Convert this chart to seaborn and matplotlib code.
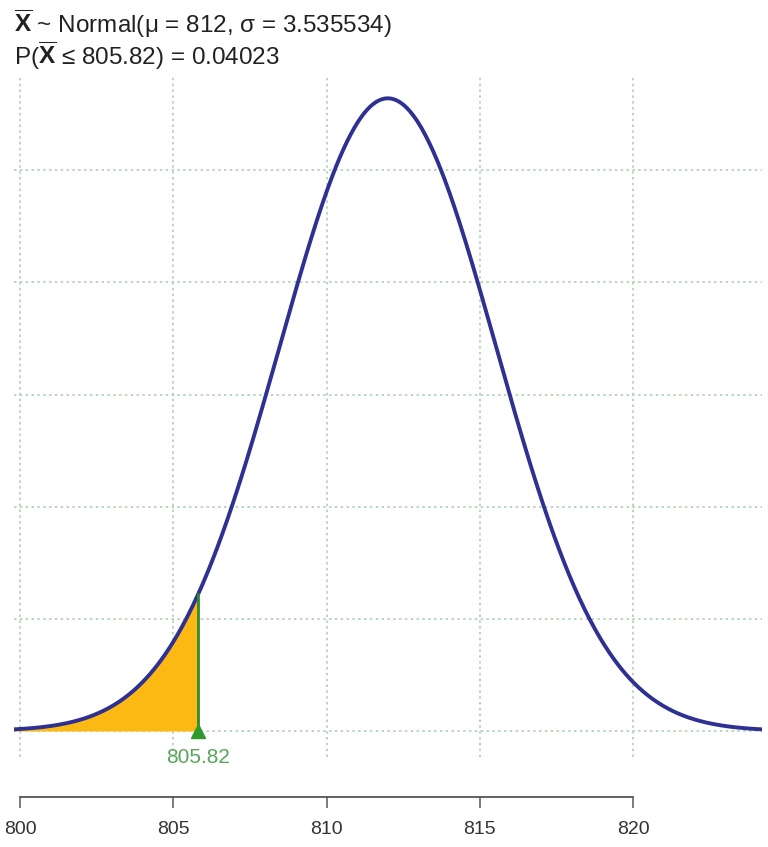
import numpy as np
import pandas as pd
import matplotlib
matplotlib.use("Agg")
import matplotlib.pyplot as plt
import seaborn as sns

# Distribution shown in the chart
mu = 812
sigma = 3.535534
x_cut = 805.82
p_cut = 0.04023
x_range = [799.8, 824.2]
x_ticks = [800, 805, 810, 815, 820]
y_grid = [0.0, 0.02, 0.04, 0.06, 0.08, 0.10]

x = np.linspace(x_range[0], x_range[1], 600)
dens = np.exp(-0.5 * ((x - mu) / sigma) ** 2) / (sigma * np.sqrt(2 * np.pi))
df = pd.DataFrame({"x": x, "density": dens})

sns.set_style("white")
plt.rcParams["font.family"] = ["Liberation Sans", "DejaVu Sans"]
plt.rcParams["mathtext.fontset"] = "custom"
plt.rcParams["mathtext.rm"] = "Liberation Sans"
plt.rcParams["mathtext.bf"] = "Liberation Sans:bold"

fig = plt.figure(figsize=(7.68, 8.47), dpi=100)
ax = fig.add_axes([0.018, 0.1063, 0.974, 0.8052])

# grid
grid_col = "#b0d0b6"
for gx in x_ticks:
    ax.axvline(gx, color=grid_col, lw=1.2, ls=(0, (1.5, 2)), zorder=0)
for gy in y_grid:
    ax.axhline(gy, color=grid_col, lw=1.2, ls=(0, (1.5, 2)), zorder=0)

# shaded tail
tail = df[df["x"] <= x_cut]
ax.fill_between(tail["x"], 0, tail["density"], color="#fdb913", lw=0, zorder=2)

sns.lineplot(data=df, x="x", y="density", color="#2e3192", lw=2.8, ax=ax, zorder=3)

y_cut = np.exp(-0.5 * ((x_cut - mu) / sigma) ** 2) / (sigma * np.sqrt(2 * np.pi))
ax.plot([x_cut, x_cut], [0, y_cut], color="#2e8b2e", lw=2, zorder=4)
ax.plot([x_cut], [0], marker="^", color="#2e9a2e", markersize=10, zorder=5, clip_on=False)
ax.text(x_cut, -0.0030, "805.82", color="#5aa55a", fontsize=15, ha="center", va="top")

ax.set_xlim(x_range)
ax.set_ylim(-0.00463, 0.117)
ax.set_xlabel("")
ax.set_ylabel("")
ax.set_yticks([])
for s in ["top", "right", "left"]:
    ax.spines[s].set_visible(False)
ax.spines["bottom"].set_position(("outward", 29))
ax.spines["bottom"].set_bounds(800, 820)
ax.spines["bottom"].set_color("#555555")
ax.spines["bottom"].set_linewidth(1.3)
ax.set_xticks(x_ticks)
ax.tick_params(axis="x", direction="out", length=8, width=1.2, color="#666666",
               labelsize=14, labelcolor="#333333", pad=9, bottom=True)

fig.text(0.018, 0.972, r"$\overline{\mathbf{X}}$ ~ Normal(μ = 812, σ = 3.535534)",
         fontsize=17.5, color="#222222", va="center", ha="left")
fig.text(0.018, 0.934, r"P($\overline{\mathbf{X}}$ ≤ " + f"{x_cut}) = {p_cut:.5f}",
         fontsize=17.5, color="#222222", va="center", ha="left")

fig.savefig("out.png", dpi=100)
